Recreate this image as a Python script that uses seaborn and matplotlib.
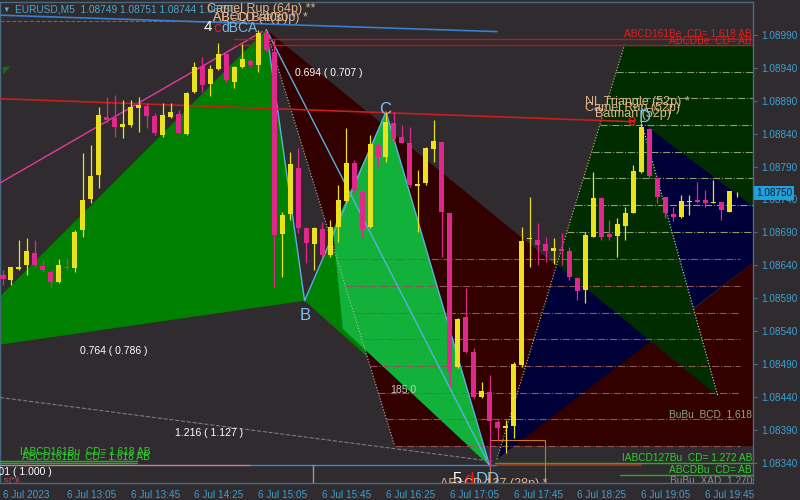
import numpy as np
import seaborn as sns
import matplotlib.pyplot as plt
import matplotlib.transforms as mtransforms
from matplotlib.patches import Polygon

# EURUSD M5 candles, 6 Jul 2023 12:25 .. 20:05
opens = [1.08625, 1.08618, 1.08634, 1.08640, 1.08659, 1.08639, 1.08630, 1.08615, 1.08637, 1.08636,
         1.08694, 1.08741, 1.08777, 1.08865, 1.08864, 1.08850, 1.08853, 1.08879, 1.08882, 1.08867,
         1.08838, 1.08865, 1.08870, 1.08840, 1.08903, 1.08943, 1.08916, 1.08938, 1.08961, 1.08919,
         1.08941, 1.08950, 1.08944, 1.08993, 1.08964, 1.08688, 1.08718, 1.08788, 1.08697, 1.08672,
         1.08695, 1.08656, 1.08698, 1.08738, 1.08795, 1.08751, 1.08698, 1.08823, 1.08805, 1.08856,
         1.08835, 1.08826, 1.08760, 1.08765, 1.08817, 1.08827, 1.08719, 1.08486, 1.08561, 1.08508,
         1.08440, 1.08447, 1.08402, 1.08393, 1.08396, 1.08489, 1.08680, 1.08678, 1.08672, 1.08662,
         1.08665, 1.08662, 1.08621, 1.08602, 1.08683, 1.08742, 1.08688, 1.08685, 1.08700, 1.08719,
         1.08782, 1.08847, 1.08773, 1.08744, 1.08718, 1.08713, 1.08736, 1.08739, 1.08739, 1.08735,
         1.08736, 1.08721, 1.08749]
highs = [1.08633, 1.08638, 1.08678, 1.08681, 1.08678, 1.08648, 1.08633, 1.08650, 1.08651, 1.08694,
         1.08811, 1.08823, 1.08881, 1.08896, 1.08899, 1.08891, 1.08891, 1.08896, 1.08887, 1.08871,
         1.08887, 1.08887, 1.08876, 1.08903, 1.08949, 1.08957, 1.08944, 1.08978, 1.08962, 1.08942,
         1.08976, 1.08954, 1.08998, 1.08998, 1.08982, 1.08721, 1.08812, 1.08818, 1.08698, 1.08698,
         1.08706, 1.08709, 1.08762, 1.08849, 1.08800, 1.08754, 1.08838, 1.08826, 1.08873, 1.08873,
         1.08853, 1.08850, 1.08785, 1.08820, 1.08861, 1.08827, 1.08719, 1.08560, 1.08605, 1.08514,
         1.08462, 1.08473, 1.08405, 1.08405, 1.08493, 1.08698, 1.08744, 1.08704, 1.08683, 1.08681,
         1.08689, 1.08668, 1.08622, 1.08691, 1.08782, 1.08744, 1.08709, 1.08712, 1.08729, 1.08792,
         1.08856, 1.08849, 1.08774, 1.08744, 1.08729, 1.08747, 1.08747, 1.08767, 1.08754, 1.08770,
         1.08736, 1.08753, 1.08751]
lows = [1.08610, 1.08610, 1.08633, 1.08625, 1.08637, 1.08630, 1.08607, 1.08613, 1.08633, 1.08630,
        1.08683, 1.08735, 1.08757, 1.08856, 1.08835, 1.08833, 1.08850, 1.08843, 1.08849, 1.08838,
        1.08835, 1.08864, 1.08840, 1.08838, 1.08902, 1.08903, 1.08897, 1.08937, 1.08919, 1.08909,
        1.08940, 1.08941, 1.08934, 1.08964, 1.08607, 1.08622, 1.08709, 1.08689, 1.08643, 1.08633,
        1.08651, 1.08653, 1.08675, 1.08736, 1.08750, 1.08683, 1.08697, 1.08789, 1.08797, 1.08827,
        1.08825, 1.08759, 1.08691, 1.08762, 1.08797, 1.08653, 1.08455, 1.08484, 1.08507, 1.08438,
        1.08438, 1.08333, 1.08374, 1.08355, 1.08377, 1.08486, 1.08637, 1.08640, 1.08645, 1.08642,
        1.08640, 1.08618, 1.08587, 1.08583, 1.08683, 1.08678, 1.08678, 1.08653, 1.08678, 1.08719,
        1.08780, 1.08773, 1.08735, 1.08712, 1.08707, 1.08712, 1.08716, 1.08735, 1.08729, 1.08735,
        1.08709, 1.08721, 1.08744]
closes = [1.08619, 1.08637, 1.08637, 1.08662, 1.08640, 1.08633, 1.08615, 1.08640, 1.08636, 1.08691,
          1.08739, 1.08776, 1.08868, 1.08861, 1.08850, 1.08855, 1.08881, 1.08884, 1.08867, 1.08841,
          1.08868, 1.08873, 1.08841, 1.08902, 1.08941, 1.08914, 1.08938, 1.08961, 1.08922, 1.08941,
          1.08954, 1.08944, 1.08993, 1.08967, 1.08686, 1.08716, 1.08794, 1.08697, 1.08674, 1.08697,
          1.08656, 1.08698, 1.08739, 1.08795, 1.08754, 1.08695, 1.08824, 1.08805, 1.08858, 1.08832,
          1.08826, 1.08762, 1.08764, 1.08818, 1.08829, 1.08721, 1.08478, 1.08558, 1.08508, 1.08440,
          1.08449, 1.08403, 1.08393, 1.08396, 1.08490, 1.08677, 1.08681, 1.08671, 1.08662, 1.08666,
          1.08662, 1.08622, 1.08601, 1.08686, 1.08742, 1.08683, 1.08683, 1.08703, 1.08719, 1.08783,
          1.08850, 1.08776, 1.08744, 1.08719, 1.08713, 1.08738, 1.08738, 1.08736, 1.08735, 1.08736,
          1.08724, 1.08753, 1.08750]

time_labels = ["6 Jul 2023", "6 Jul 13:05", "6 Jul 13:45", "6 Jul 14:25", "6 Jul 15:05", "6 Jul 15:45",
               "6 Jul 16:25", "6 Jul 17:05", "6 Jul 17:45", "6 Jul 18:25", "6 Jul 19:05", "6 Jul 19:45"]
label_bars = [0, 8, 16, 24, 32, 40, 48, 56, 64, 72, 80, 88]
price_ticks = [1.08990, 1.08940, 1.08890, 1.08840, 1.08790, 1.08740, 1.08690,
               1.08640, 1.08590, 1.08540, 1.08490, 1.08440, 1.08390, 1.08340]
last_price = 1.08750

# harmonic pattern shapes (bar index, price)
xab_bars, xab_prices = [-7.4, 33, 37.8], [1.08507, 1.08998, 1.08586]
bcd_bars, bcd_prices = [37.8, 48, 61], [1.08586, 1.08873, 1.08335]
inner_bars, inner_prices = [41.35, 48, 61, 42.6], [1.08694, 1.08873, 1.08335, 1.08543]
maroon_bars, maroon_prices = [33, 49.1, 92.4, 94.6], [1.08998, 1.08365, 1.08365, 1.08390]
maroon2_bars, maroon2_prices = [64.8, 94.6, 94.6], [1.08365, 1.08650, 1.08365]
navy_bars, navy_prices = [61.9, 69.4, 80, 94.6, 94.6], [1.08345, 1.08641, 1.08858, 1.08724, 1.08650]
dkgreen_bars = [69.4, 77.9, 94.6, 94.6, 80, 89.6]
dkgreen_prices = [1.08641, 1.08975, 1.08975, 1.08724, 1.08858, 1.08441]

fib_upper = [1.08975, 1.08934, 1.08894, 1.08853, 1.08812, 1.08772, 1.08731, 1.08690]
fib_lower = [1.08650, 1.08609, 1.08568, 1.08528, 1.08487, 1.08446, 1.08406, 1.08365]

bg = "#2f2b2e"
sns.set_style("dark", {"axes.facecolor": bg, "figure.facecolor": bg})
plt.rcParams["font.family"] = ["Liberation Sans", "DejaVu Sans"]

fig = plt.figure(figsize=(8, 5), dpi=100)
ax = fig.add_axes([0, 17 / 500, 753 / 800, 481 / 500])
ax.set_xlim(-0.376, 94.0)
ax.set_ylim(1.08309, 1.09040)

# filled pattern areas
for bx, py, col in [(xab_bars, xab_prices, "#008000"), (bcd_bars, bcd_prices, "#008000"),
                    (maroon_bars, maroon_prices, "#330000"), (maroon2_bars, maroon2_prices, "#330000"),
                    (navy_bars, navy_prices, "#000038"), (dkgreen_bars, dkgreen_prices, "#002c00"),
                    (inner_bars, inner_prices, "#12b23a")]:
    ax.add_patch(Polygon(np.column_stack([bx, py]), closed=True, fc=col, ec="none", zorder=1))

# fibonacci grid
up_start = np.interp(fib_upper, [1.08345, 1.08975], [61.9, 77.9])
ax.hlines(fib_upper, up_start, 94.0, colors="#86a070", linestyles="dashdot", lw=0.8, zorder=2)
lo_start = np.interp(fib_lower, [1.08365, 1.08998], [49.1, 33])
ax.hlines(fib_lower, lo_start, 92.4, colors="#8e5656", linestyles="dashdot", lw=0.8, zorder=2)

def seg(xs, ys, color, lw=1.0, ls="-"):
    sns.lineplot(x=xs, y=ys, color=color, lw=lw, linestyle=ls, sort=False, estimator=None, ax=ax, zorder=3)

seg([33, 37.8, 48, 61], [1.08998, 1.08586, 1.08873, 1.08335], "#5ab0e0")
seg([33, 61], [1.08998, 1.08335], "#5ab0e0")
seg([33, 49.1], [1.08998, 1.08365], "#b8b8b8", 0.8, ":")
seg([61.9, 77.9], [1.08345, 1.08975], "#c8c878", 0.8, ":")
seg([80, 89.6], [1.08858, 1.08441], "#d8d8d8", 0.8, ":")
seg([-0.38, 61.3], [1.08439, 1.08342], "#7a7a94", 0.8, "--")
seg([-0.38, 31], [1.09011, 1.09011], "#66668a", 0.8, "--")
seg([-0.38, 32.5], [1.08765, 1.08995], "#e03c9c", 1.0)
seg([-0.38, 79.2], [1.08893, 1.08858], "#c81e1e", 1.2)
seg([-0.38, 61.9], [1.09020, 1.08995], "#3a7fd0", 1.2)
seg([29, 95], [1.08984, 1.08984], "#b01c1c", 1.0)
seg([29, 95], [1.08974, 1.08974], "#b01c1c", 1.0)
seg([-0.38, 31], [1.08336, 1.08336], "#d07aa0", 1.0)
seg([31, 61.9], [1.08336, 1.08336], "#3a8ad0", 1.0)
seg([61.9, 80], [1.08336, 1.08336], "#c81e1e", 1.2)
seg([-0.38, 16.8], [1.08342, 1.08342], "#22b022", 1.0)
seg([-0.38, 16.8], [1.08339, 1.08339], "#22b022", 1.0)
seg([61.7, 95], [1.08340, 1.08340], "#22b022", 1.0)
seg([77.3, 95], [1.08321, 1.08321], "#22b022", 1.0)
seg([38.85, 38.85], [1.08336, 1.08300], "#9a9a9a", 1.0)
seg([61.0, 61.0, 67.9, 67.9], [1.08300, 1.08374, 1.08374, 1.08300], "#c87820", 0.8)

# candles
bars = np.arange(len(opens))
o, h, l, c = map(np.array, (opens, highs, lows, closes))
up = c >= o
bull, bear = "#ece11e", "#e0288c"
cols = np.where(up, bull, bear)
ax.vlines(bars, l, h, colors=cols, lw=0.9, zorder=4)
ax.bar(bars, np.maximum(np.abs(c - o), 1.2e-5), bottom=np.minimum(o, c), width=0.63,
       color=cols, edgecolor="none", zorder=5)

# axes styling
ax.yaxis.tick_right()
ax.set_yticks(price_ticks)
ax.set_yticklabels([f"{p:.5f}" for p in price_ticks])
ax.set_xticks(label_bars)
ax.set_xticklabels(time_labels, ha="left")
ax.tick_params(axis="y", colors="#3ca0d2", labelsize=7.2, length=3, pad=3, direction="out")
ax.tick_params(axis="x", colors="#3ca0d2", labelsize=7.2, length=3, pad=2, direction="out")
ax.tick_params(axis="both", which="both", color="#4a6a80")
for sp in ax.spines.values():
    sp.set_color("#4a6a80")
    sp.set_linewidth(1)
ax.set_xlabel("")
ax.set_ylabel("")
ax.grid(False)

ax.text(1.0 + 3 / 753, last_price, "1.08750", transform=ax.get_yaxis_transform(), color="#0a1a30",
        fontsize=7.2, va="center", ha="left", clip_on=False, zorder=10,
        bbox=dict(fc="#22a0dc", ec="none", pad=1.2))

to_px = mtransforms.Affine2D().scale(1 / 100, -1 / 100).translate(0, 5) + fig.dpi_scale_trans

def label(x, y, s, color, size, ha="left", **kw):
    ax.text(x, y, s, color=color, fontsize=size, ha=ha, va="center", transform=to_px,
            clip_on=True, zorder=8, **kw)

tan = "#e2b48e"
label(2, 10, "▼", "#50b0d8", 5.5)
label(15, 10, "EURUSD,M5  1.08749 1.08751 1.08744 1.08750", "#4aa8d0", 7.3)
label(207, 9, "Camel Rup (64p) **", tan, 9)
label(213, 18, "ABCD Bat(30p) *", tan, 9)
label(213, 18, "AB=CD (40p) *", tan, 9)
label(204, 27, "4", "white", 11)
label(213, 28, "c", "#e02020", 11)
label(221, 28, "dBCA", "#7ab8e8", 10)
label(295, 73, "0.694 ( 0.707 )", "white", 7.5)
label(385, 110, "C", "#80c0f0", 12, ha="center")
label(305, 315, "B", "#80c0f0", 12, ha="center")
label(80, 351, "0.764 ( 0.786 )", "white", 7.5)
label(390, 390, "185.0", "#c8c8c8", 7.5)
label(175, 433, "1.216 ( 1.127 )", "white", 7.5)
label(20, 452, "IABCD161Bu  CD= 1.618 AB", "#30d030", 7.3)
label(22, 457, "ABCD161Bu  CD= 1.618 AB", "#30d030", 7.3)
label(52, 472, "0.901 ( 1.000 )", "white", 7.5, ha="right")
label(4, 480, "s:(*)l.", "#e05070", 5.5)
label(3, 70, "◤", "#1a6a1a", 7)
label(457, 479, "5", "white", 12, ha="center")
label(469, 479, "d", "#e02020", 12, ha="center")
label(488, 479, "DD", "#80c0f0", 12, ha="center")
label(440, 484, "AB=CD 127 (28p) *", tan, 9)
label(585, 102, "NL Triangle (52p) *", tan, 9)
label(585, 108, "Camel Rup (52p)", tan, 9)
label(595, 114, "Batman (52p)", tan, 9)
label(632, 121, "e", "#e02020", 11, ha="center")
label(645, 117, "D", "#80c0f0", 12, ha="center")
label(752, 34, "ABCD161Be  CD= 1.618 AB", "#e02020", 7.3, ha="right")
label(752, 41, "ABCDBe  CD= AB", "#e02020", 7.3, ha="right")
label(752, 415, "BuBu  BCD  1.618", "#8aa88a", 7.3, ha="right")
label(752, 458, "IABCD127Bu  CD= 1.272 AB", "#30d030", 7.3, ha="right")
label(752, 470, "ABCDBu  CD= AB", "#30d030", 7.3, ha="right")
label(752, 481, "BuBu  XAD  1.270", "#8a8a9a", 7.3, ha="right")

fig.savefig("out.png", dpi=100, facecolor=bg)
